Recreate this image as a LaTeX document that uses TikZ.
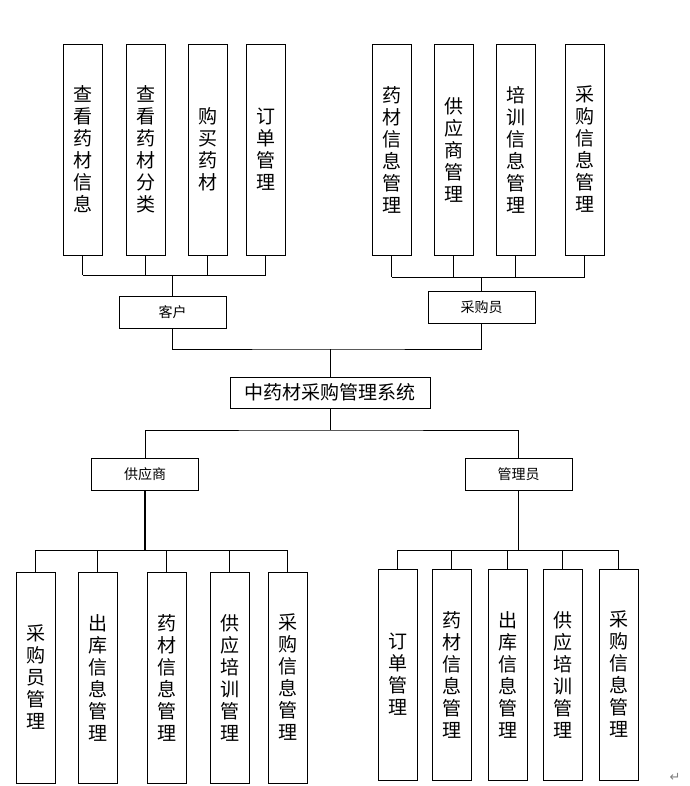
\documentclass[tikz,border=0pt]{standalone}
\usepackage{fontspec}
\newfontfamily\cjk{Noto Sans CJK SC}
\newfontfamily\dv{DejaVu Sans}
\begin{document}
\begin{tikzpicture}[x=1pt,y=-1pt,line width=0.8pt,
 vbox/.style={draw,minimum width=39pt,minimum height=211pt,align=center,inner sep=0pt,font=\cjk\fontsize{19}{22}\selectfont},
 hbox/.style={draw,minimum width=107pt,minimum height=32pt,inner sep=0pt,font=\cjk\fontsize{14}{16}\selectfont},
 tbox/.style={draw,minimum width=200pt,minimum height=31pt,inner sep=0pt,font=\cjk\fontsize{19}{20}\selectfont}]
\useasboundingbox (0,0) rectangle (689,786);
% top left
\node[vbox] (a1) at (82.5,149.5) {查\\看\\药\\材\\信\\息};
\node[vbox] (a2) at (145.5,149.5) {查\\看\\药\\材\\分\\类};
\node[vbox] (a3) at (207.5,149.5) {购\\买\\药\\材};
\node[vbox] (a4) at (265.5,149.5) {订\\单\\管\\理};
\node[hbox] (kh) at (172.5,312) {客户};
% top right
\node[vbox] (b1) at (391.5,149.5) {药\\材\\信\\息\\管\\理};
\node[vbox] (b2) at (453.5,149.5) {供\\应\\商\\管\\理};
\node[vbox] (b3) at (515.5,149.5) {培\\训\\信\\息\\管\\理};
\node[vbox] (b4) at (584.5,149.5) {采\\购\\信\\息\\管\\理};
\node[hbox] (cg) at (481.5,307.5) {采购员};
% center
\node[tbox] (root) at (330,392.5) {中药材采购管理系统};
\node[hbox] (gy) at (145,474) {供应商};
\node[hbox] (gl) at (518.5,474) {管理员};
% bottom left
\node[vbox] (c1) at (35.5,677.5) {采\\购\\员\\管\\理};
\node[vbox] (c2) at (97.5,677.5) {出\\库\\信\\息\\管\\理};
\node[vbox] (c3) at (166.5,677.5) {药\\材\\信\\息\\管\\理};
\node[vbox] (c4) at (229.5,677.5) {供\\应\\培\\训\\管\\理};
\node[vbox] (c5) at (287.5,677.5) {采\\购\\信\\息\\管\\理};
% bottom right
\node[vbox] (d1) at (397.5,674.5) {订\\单\\管\\理};
\node[vbox] (d2) at (451.5,674.5) {药\\材\\信\\息\\管\\理};
\node[vbox] (d3) at (507.5,674.5) {出\\库\\信\\息\\管\\理};
\node[vbox] (d4) at (562.5,674.5) {供\\应\\培\\训\\管\\理};
\node[vbox] (d5) at (618.5,674.5) {采\\购\\信\\息\\管\\理};
% connectors top left
\foreach \n in {a1,a2,a3,a4} \draw (\n.south) -- ++(0,20);
\draw (a1.south |- 0,275) -- (a4.south |- 0,275);
\draw[line width=1.6pt] (kh.north) -- (kh.north |- 0,275);
\foreach \n in {b1,b2,b3,b4} \draw (\n.south) -- ++(0,22);
\draw (b1.south |- 0,277) -- (b4.south |- 0,277);
\draw (cg.north) -- (cg.north |- 0,277);
\draw (kh.south) |- (330,349) -| (cg.south);
\draw (root.north) -- (330,349);
\draw (root.south) -- (330,430);
\draw (gy.north) |- (330,430) -| (gl.north);
\foreach \n in {c1,c2,c3,c4,c5} \draw (\n.north) -- (\n.north |- 0,550);
\draw (c1.north |- 0,550) -- (c5.north |- 0,550);
\draw[line width=1.6pt] (gy.south) -- (gy.south |- 0,550);
\foreach \n in {d1,d2,d3,d4,d5} \draw (\n.north) -- (\n.north |- 0,550);
\draw (d1.north |- 0,550) -- (d5.north |- 0,550);
\draw[line width=1.6pt] (gl.south) -- (gl.south |- 0,550);
\node[font=\dv\fontsize{13}{13}\selectfont,text=gray] (pm) at (675,777) {↵};
\end{tikzpicture}
\end{document}
